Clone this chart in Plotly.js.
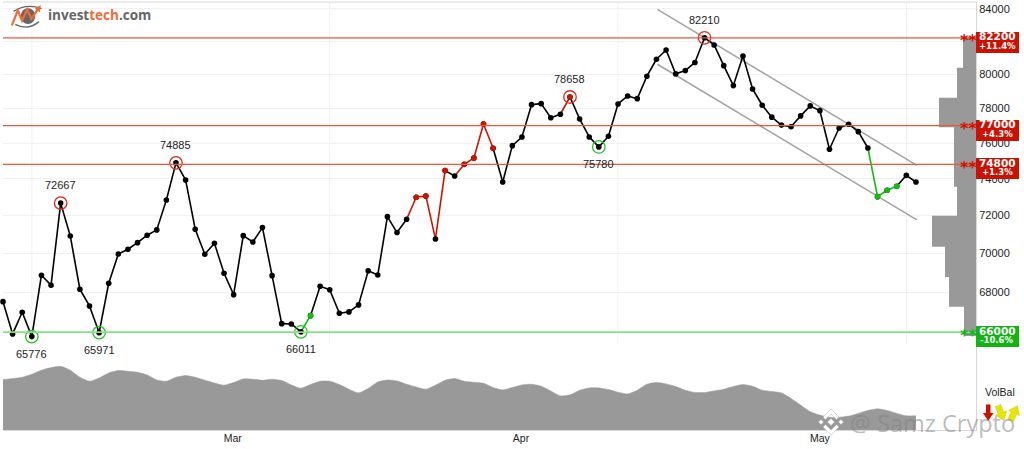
<!DOCTYPE html>
<html><head><meta charset="utf-8">
<script src="https://cdn.plot.ly/plotly-3.0.1.min.js"></script>
<style>html,body{margin:0;padding:0;background:#fff}#c{width:1024px;height:449px}</style>
</head><body><div id="c"></div>
<script>
// Closing prices, one per trading bar
const closes = [67514,65908,66985,65776,68860,68350,72667,70909,68142,67298,65971,68448,69961,70207,70554,70946,71230,72839,74885,73935,71267,69945,70523,68962,67868,70925,70591,71352,68839,66415,66400,66011,66812,68297,68120,66935,67000,67350,69085,68875,71937,71087,71799,72986,73057,70750,74452,74155,74800,75159,77092,75705,73820,75852,76345,78209,78268,77445,77650,78658,77380,76345,75780,76385,78250,78719,78560,79887,80905,81468,80026,80225,80710,82210,81773,80518,79328,81103,79130,78174,77483,77025,76930,77555,78135,77860,75650,76860,77075,76650,75720,73020,73370,73590,74190,73820];
// Volume balance profile under the price chart
const volume = [50.7,51.7,53,56,60,62.7,64,60,53,49,52.3,57.3,59.7,59,58,55.3,50.3,49,53,54.7,53,50,47.3,45,47.7,51.3,51,50,51,49.7,45.3,42,45.7,49,49,45.7,41,37.3,41.7,48.3,50.3,49.3,46,43.3,41,45,50,51.7,49,48,47,42.7,40.3,42.7,45.3,46,44,39.3,34.3,35.3,40,42.3,42.3,40.7,38,36.3,40,46,47.7,46.3,43.7,40,37.7,37.7,39.3,41,43.7,45.7,44,40,38.7,37.3,31.7,25,18.3,15,12.7,12.7,14,16.7,19.7,21.3,19.7,16.7,14.3,14.3];
// Coloured runs of the price line [first bar, last bar]
const redRuns = [[42,45],[45,46],[47,51],[58,59]];
const greenRuns = [[31,32],[90,93]];
// Bars whose dot is coloured
const redDots = [43,44,46,48,49,50,51,59];
const greenDots = [32,91,92,93];
// Extremes marked with ring and label
const topBars = [6,18,59,73];
const bottomBars = [3,10,31,62];
// Support / resistance levels
const resistance = [82200,77000,74800];
const resistancePct = ["+11.4%","+4.3%","+1.3%"];
const support = [66000];
const supportPct = ["-10.6%"];
// Trend channel
const channelBars = [68.1,95.1];
const channelUpper = [83980,74745];
const channelLower = [80603,71760];
// Volume-at-price profile
const bandEdges = [82263,80399,78619,76900,73563,71991,70343,68773,67263,65810];
const bandVolume = [13,19,37,22,19,44,31,27,12];
// Axis labels
const yTicks = [84000,82000,80000,78000,76000,74000,72000,70000,68000,66000];
const yLabels = ["84000","","80000","78000","76000","74000","72000","70000","68000",""];
const monthBars = [23.9,53.9,85];
const monthNames = ["Mar","Apr","May"];
const gridBars = [3,34,64,94];

const bars = closes.map((_,i)=>i);
const FONT = '"Liberation Sans", Arial, sans-serif';
const BLACK='#000', GREY='#999999';
const LVLR='#e9573f', LVLG='#86e086', TAGR='#cc1100', TAGG='#11b511';
const LW=1.6, DOT=5.6;

const traces = [];
traces.push({x:bars,y:volume,xaxis:'x',yaxis:'y2',mode:'lines',fill:'tozeroy',fillcolor:GREY,line:{color:GREY,width:0.5,shape:'spline',smoothing:0.6},hoverinfo:'skip'});
const px=[0],py=[bandEdges[0]];
bandVolume.forEach((v,i)=>{px.push(v,v);py.push(bandEdges[i],bandEdges[i+1]);});
px.push(0);py.push(bandEdges[bandEdges.length-1]);
traces.push({x:px,y:py,xaxis:'x2',yaxis:'y',mode:'lines',fill:'toself',fillcolor:GREY,line:{width:0,color:GREY},hoverinfo:'skip'});
[channelUpper,channelLower].forEach(c=>traces.push({x:channelBars,y:c,xaxis:'x',yaxis:'y',mode:'lines',line:{color:'#a3a3a3',width:1.5},hoverinfo:'skip'}));
// black line: only the segments outside the coloured runs
const coloured=new Set();
redRuns.concat(greenRuns).forEach(r=>{for(let i=r[0];i<r[1];i++)coloured.add(i);});
const bx=[],by=[];
for(let i=0;i<closes.length-1;i++){ if(!coloured.has(i)){bx.push(i,i+1,null);by.push(closes[i],closes[i+1],null);} }
traces.push({x:bx,y:by,xaxis:'x',yaxis:'y',mode:'lines',connectgaps:false,line:{color:BLACK,width:LW},hoverinfo:'skip'});
const run=(r,col)=>traces.push({x:bars.slice(r[0],r[1]+1),y:closes.slice(r[0],r[1]+1),xaxis:'x',yaxis:'y',mode:'lines',line:{color:col,width:LW},hoverinfo:'skip'});
redRuns.forEach(r=>run(r,'#d01200'));
greenRuns.forEach(r=>run(r,'#12bd12'));
traces.push({x:bars,y:closes,xaxis:'x',yaxis:'y',mode:'markers',cliponaxis:false,marker:{size:DOT,color:BLACK},hoverinfo:'skip'});
const dots=(b,col)=>traces.push({x:b,y:b.map(i=>closes[i]),xaxis:'x',yaxis:'y',mode:'markers',marker:{size:DOT,color:col},hoverinfo:'skip'});
dots(redDots,'#d01200');dots(greenDots,'#12bd12');
const rings=(b,col)=>traces.push({x:b,y:b.map(i=>closes[i]),xaxis:'x',yaxis:'y',mode:'markers',marker:{size:12.5,color:'rgba(0,0,0,0)',line:{color:col,width:1.3}},hoverinfo:'skip'});
rings(topBars,'#e3281b');rings(bottomBars,'#22c422');

const shapes=[], annotations=[];
const W=973;
gridBars.forEach(b=>shapes.push({type:'line',xref:'x',yref:'paper',x0:b,x1:b,y0:0,y1:1,line:{color:'#f0f0f0',width:1},layer:'below'}));
const addLevel=(v,pct,lineCol,tagCol,lw)=>{
  shapes.push({type:'line',xref:'paper',yref:'y',x0:0,x1:1,y0:v,y1:v,line:{color:lineCol,width:lw},layer:'above'});
  const ly=Math.log10(v);
  annotations.push({xref:'paper',yref:'y',x:1+21.5/W,y:ly,yshift:-4.5,xanchor:'center',yanchor:'middle',showarrow:false,text:' ',width:43,height:21,bgcolor:tagCol,borderpad:0,borderwidth:0,font:{size:8}});
  annotations.push({xref:'paper',yref:'y',x:1+21.5/W,y:ly,yshift:1.5,xanchor:'center',yanchor:'middle',showarrow:false,text:'<b>'+v+'</b>',font:{family:'"DejaVu Sans",sans-serif',size:10.5,color:'#fff'}});
  annotations.push({xref:'paper',yref:'y',x:1+21.5/W,y:ly,yshift:-8,xanchor:'center',yanchor:'middle',showarrow:false,text:'<b>'+pct+'</b>',font:{family:'"DejaVu Sans",sans-serif',size:8.5,color:'#fff'}});
  annotations.push({xref:'paper',yref:'y',x:1,y:ly,yshift:-3,xanchor:'right',yanchor:'middle',xshift:3,showarrow:false,text:'<b>**</b>',font:{family:'"DejaVu Sans",sans-serif',size:16,color:tagCol}});
};
resistance.forEach((v,i)=>addLevel(v,resistancePct[i],LVLR,TAGR,1.3));
support.forEach((v,i)=>addLevel(v,supportPct[i],LVLG,TAGG,1.7));
topBars.forEach(i=>annotations.push({xref:'x',yref:'y',x:i,y:Math.log10(closes[i]),yshift:18,showarrow:false,text:String(closes[i]),font:{family:FONT,size:11,color:'#222'}}));
bottomBars.forEach(i=>annotations.push({xref:'x',yref:'y',x:i,y:Math.log10(closes[i]),yshift:-17,showarrow:false,text:String(closes[i]),font:{family:FONT,size:11,color:'#222'}}));
annotations.push({xref:'paper',yref:'paper',x:(46-3)/W,y:1.0-13/428,xanchor:'left',yanchor:'middle',showarrow:false,
  text:'<b><span style="color:#666666">invest</span><span style="color:#f26a36">tech</span><span style="color:#666666">.com</span></b>',font:{family:'"Open Sans",sans-serif',size:13.5}});
annotations.push({xref:'paper',yref:'paper',x:(1000-3)/W,y:(430-392)/428,xanchor:'center',yanchor:'middle',showarrow:false,text:'VolBal',font:{family:FONT,size:10.5,color:'#222'}});
annotations.push({xref:'paper',yref:'paper',x:(848-3)/W,y:(430-423)/428,xanchor:'left',yanchor:'middle',showarrow:false,text:'@ Samz Crypto',font:{family:'"Open Sans",sans-serif',size:23.5,color:'rgba(130,130,130,0.55)'}});

const svg=s=>'data:image/svg+xml;utf8,'+encodeURIComponent(s);
const logoSvg='<svg xmlns="http://www.w3.org/2000/svg" viewBox="0 0 40 28"><path d="M3 8 Q18 -1 36 5" fill="none" stroke="#666" stroke-width="1.5"/><path d="M5 22 Q20 29 33 19" fill="none" stroke="#666" stroke-width="1.5"/><circle cx="20" cy="13" r="8.5" fill="#666"/><path d="M1 23 L8 7 L13 18 L19 6 L24 16 L32 5" fill="none" stroke="#f26a36" stroke-width="2.6"/><path d="M28 5 L35 1 L34 9 Z" fill="#f26a36"/></svg>';
const arrowSvg='<svg xmlns="http://www.w3.org/2000/svg" viewBox="0 0 38 18"><path d="M3 0.5 L7.5 0.5 L7.5 9 L10.5 9 L5.2 17 L0 9 L3 9 Z" fill="#cc1100"/><g transform="rotate(-22 18 9)"><path d="M15 1 L21 1 L21 9 L24 9 L18 17 L12 9 L15 9 Z" fill="#e6e600" stroke="#c4c400" stroke-width="0.4"/></g><g transform="rotate(-155 31 9)"><path d="M28 1 L34 1 L34 9 L37 9 L31 17 L25 9 L28 9 Z" fill="#e6e600" stroke="#c4c400" stroke-width="0.4"/></g></svg>';
const binSvg='<svg xmlns="http://www.w3.org/2000/svg" viewBox="0 0 30 30"><g fill="#fff" stroke="#b5b5b5" stroke-width="0.5"><path d="M15 11.5 l3.5 3.5 -3.5 3.5 -3.5 -3.5z"/><path d="M5 12.5 l2.5 2.5 -2.5 2.5 -2.5 -2.5z"/><path d="M25 12.5 l2.5 2.5 -2.5 2.5 -2.5 -2.5z"/><path d="M15 2 L23 10 L20.5 12.5 L15 7 L9.5 12.5 L7 10 Z"/><path d="M15 28 L23 20 L20.5 17.5 L15 23 L9.5 17.5 L7 20 Z"/></g></svg>';
const images=[
 {source:svg(logoSvg),xref:'paper',yref:'paper',x:(11-3)/W,y:1-(2)/428,sizex:34/W,sizey:26/428,xanchor:'left',yanchor:'top',sizing:'stretch',layer:'above'},
 {source:svg(arrowSvg),xref:'paper',yref:'paper',x:(983-3)/W,y:(430-404)/428,sizex:38/W,sizey:18/428,xanchor:'left',yanchor:'top',sizing:'stretch',layer:'above'},
 {source:svg(binSvg),xref:'paper',yref:'paper',x:(816-3)/W,y:(430-407)/428,sizex:30/W,sizey:30/428,xanchor:'left',yanchor:'top',sizing:'stretch',layer:'above'}
];

const layout={
  width:1024,height:449,margin:{l:3,r:48,t:2,b:19},paper_bgcolor:'#fff',plot_bgcolor:'#fff',showlegend:false,
  font:{family:FONT,size:11,color:'#222'},hovermode:false,
  xaxis:{range:[0,(976-3)/9.61],tickmode:'array',tickvals:monthBars,ticktext:monthNames,showgrid:false,zeroline:false,ticks:'',ticklabelstandoff:-2,tickfont:{size:10.5,color:'#222'},showline:true,linecolor:'#d8d8d8',linewidth:1,automargin:false},
  xaxis2:{overlaying:'x',range:[W,0],visible:false,side:'top'},
  yaxis:{type:'log',side:'right',range:[Math.log10(61347),Math.log10(84437)],tickmode:'array',tickvals:yTicks,ticktext:yLabels,showgrid:true,gridcolor:'#f1f1f1',gridwidth:1,zeroline:false,ticks:'',tickfont:{size:11,color:'#222'},showline:true,linecolor:'#d8d8d8',linewidth:1,automargin:false},
  yaxis2:{domain:[0,0.2],range:[0,86],visible:false,anchor:'x',fixedrange:true},
  shapes:shapes.concat([{type:'line',xref:'paper',yref:'paper',x0:0,x1:1,y0:1,y1:1,line:{color:'#d8d8d8',width:1}}]),
  annotations,images
};
Plotly.newPlot('c',traces,layout,{staticPlot:true,displayModeBar:false});
</script></body></html>
